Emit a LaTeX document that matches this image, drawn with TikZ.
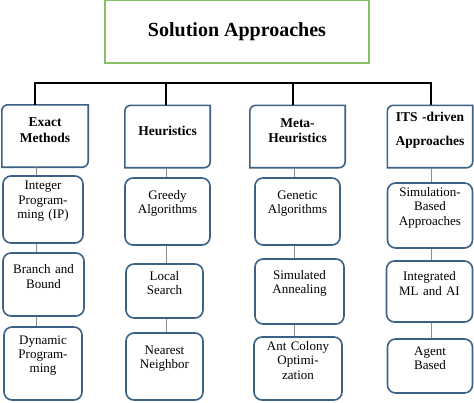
\documentclass[tikz,border=0pt]{standalone}
\usepackage{fontspec}
\setmainfont{Liberation Serif}
\definecolor{boxblue}{HTML}{3B6186}
\definecolor{topgreen}{HTML}{86BE6A}
\definecolor{linkgray}{HTML}{8C8C8C}
\tikzset{
  topbox/.style={draw=topgreen, line width=1.5pt, minimum width=264pt, minimum height=63pt,
    font=\bfseries\fontsize{20}{24}\selectfont},
  hdr/.style={text width=76pt, align=center, inner sep=2pt, minimum width=86pt, minimum height=62pt,
    font=\bfseries\fontsize{13.5}{15.5}\selectfont, execute at end node={\par\kern12pt}},
  hdrline/.style={draw=boxblue, line width=1.6pt},
  sub/.style={draw=boxblue, line width=1.6pt, rounded corners=8pt, text width=72pt, align=center,
    inner sep=2pt, font=\fontsize{13}{14.4}\selectfont, execute at end node={\par\kern16pt}},
  tree/.style={line width=1.5pt},
  link/.style={draw=linkgray, line width=1pt}
}
\begin{document}
\begin{tikzpicture}[x=1pt, y=-1pt]
    \useasboundingbox (0,0) rectangle (474,402);
    % top
    \node[topbox] (sol) at (237,31.5) {Solution Approaches};
    % headers
    \node[hdr] (exact) at (45,136) {Exact\\Methods};
    \node[hdr, minimum width=85pt] (heur) at (167.5,136.5) {Heuristics};
    \node[hdr, minimum width=95pt] (meta) at (297.5,136.5) {Meta-\\Heuristics};
    \node[hdr, minimum width=85pt] (its) at (430,136.5) {ITS -driven\\[9pt]Approaches};
    \foreach \n in {exact,heur,meta,its} {
        \draw[hdrline] (\n.south west) -- ([yshift=-6pt]\n.north west)
            arc[start angle=180, end angle=90, radius=6pt] -- (\n.north east)
            -- ([yshift=6pt]\n.south east)
            arc[start angle=0, end angle=-90, radius=6pt] -- cycle;
    }
    % tree
    \coordinate (bar) at (233,83);
    \draw[tree] ([xshift=-10pt]exact.north) |- (bar) -| ([xshift=1pt]its.north);
    \draw[tree] ([xshift=-1.5pt]heur.north) -- ([xshift=-1.5pt]heur.north |- bar);
    \draw[tree] ([xshift=-4.5pt]meta.north) -- ([xshift=-4.5pt]meta.north |- bar);
    % exact methods
    \node[sub, minimum width=80pt, minimum height=67pt] (ip) at (43,209.5) {Integer\\Program-\\ming (IP)};
    \node[sub, minimum width=81pt, minimum height=63pt] (bb) at (43.5,284.5) {Branch and\\Bound};
    \node[sub, minimum width=78pt, minimum height=73pt] (dp) at (43,363.5) {Dynamic\\Program-\\ming};
    % heuristics
    \node[sub, minimum width=85pt, minimum height=67pt] (greedy) at (167.5,211.5) {Greedy\\Algorithms};
    \node[sub, minimum width=77pt, minimum height=54pt] (local) at (164.5,291) {Local\\Search};
    \node[sub, minimum width=77pt, minimum height=67pt] (near) at (164.5,366.5) {Nearest\\Neighbor};
    % meta-heuristics
    \node[sub, minimum width=85pt, minimum height=67pt] (ga) at (297.5,211.5) {Genetic\\Algorithms};
    \node[sub, minimum width=89pt, minimum height=65pt] (sa) at (299.5,291.5) {Simulated\\Annealing};
    \node[sub, minimum width=88pt, minimum height=63pt] (aco) at (298,368.5) {Ant Colony\\Optimi-\\zation};
    % its-driven
    \node[sub, minimum width=85pt, minimum height=65pt] (sim) at (430,215.5) {Simulation-\\Based\\Approaches};
    \node[sub, minimum width=86pt, minimum height=61pt] (ml) at (429.5,291.5) {Integrated\\ML and AI};
    \node[sub, minimum width=85pt, minimum height=54pt] (agent) at (430,366) {Agent\\Based};
    % links
    \foreach \a/\b/\dx in {exact/ip/-7, ip/bb/-7.5, bb/dp/-7,
                           heur/greedy/-1.5, greedy/local/1.5, local/near/1.5,
                           meta/ga/-3.5, ga/sa/-5.5, sa/aco/-4,
                           its/sim/1, sim/ml/1.5, ml/agent/1} {
        \draw[link] ([xshift=\dx pt]\b.north) -- ([xshift=\dx pt]\b.north |- \a.south);
    }
\end{tikzpicture}
\end{document}
